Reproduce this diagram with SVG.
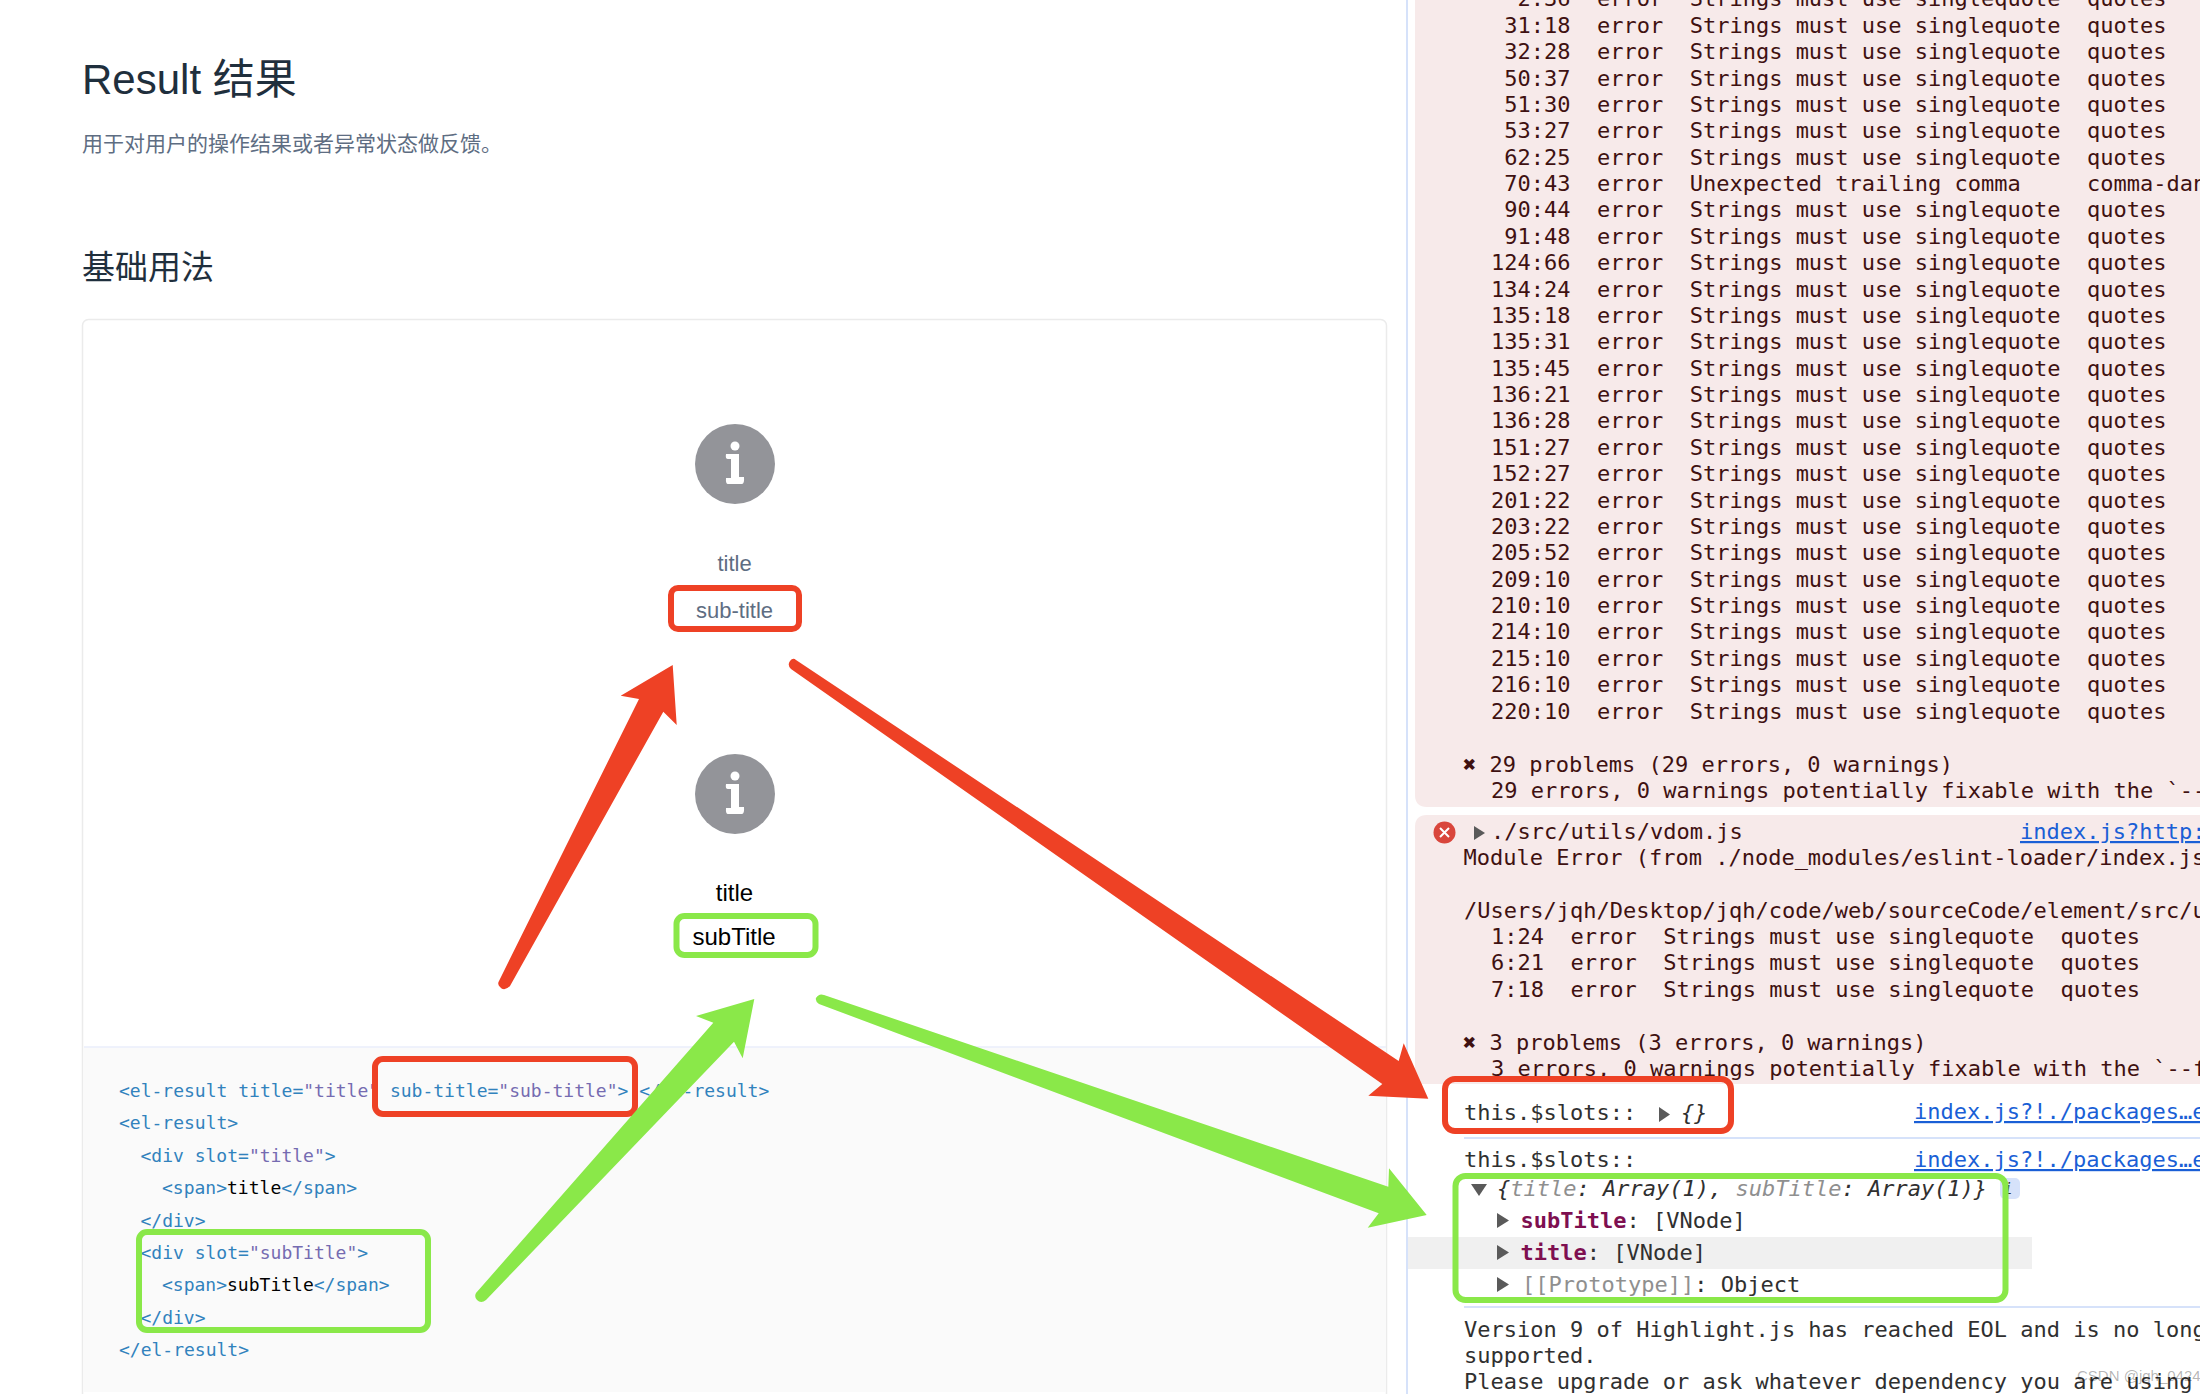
<svg xmlns="http://www.w3.org/2000/svg" width="2200" height="1394" viewBox="0 0 2200 1394">
<style>
text{white-space:pre}
.s{font-family:"Liberation Sans","Noto Sans CJK SC",sans-serif}
.h{fill:#1f2f3d}
.m{font-family:"DejaVu Sans Mono",monospace;font-size:22px;fill:#3f1111}
.k{fill:#303030}
.l{fill:#1a5fd6;text-decoration:underline}
.c{font-family:"DejaVu Sans Mono",monospace;font-size:18px;fill:#3182bd}
.q{fill:#756bb1}
.b{fill:#000}
.r{fill:none;stroke:#ee4125;stroke-width:6}
.g{fill:none;stroke:#8ae849;stroke-width:6}
.tri{fill:#5a5a5a}
.ra{fill:#ee4125}
.ga{fill:#8ae849}
.i{font-style:italic}
.dim{fill:#8f8f8f}
.prop{fill:#7e0f50;font-weight:bold}
</style>
<defs>
<g id="info">
<circle r="40" fill="#939499"/>
<circle cy="-18" r="4.500" fill="#fff"/>
<path d="M-9 -10H4V13H9Q9.500 20 7 20H-7Q-9.500 20 -9 14H-4V-5H-7Q-10 -5 -9 -10Z" fill="#fff"/>
</g>
</defs>
<rect width="2200" height="1394" fill="#fff"/>

<g id="page-header">
<text class="s h" x="82" y="94" font-size="42">Result 结果</text>
<text class="s" x="82" y="151" font-size="21" fill="#5e6d82">用于对用户的操作结果或者异常状态做反馈。</text>
<text class="s h" x="82" y="279" font-size="33">基础用法</text>
</g>

<g id="demo-card">
<rect x="82.500" y="319.500" width="1304" height="1085" rx="6" fill="#fff" stroke="#ebebeb" stroke-width="1.500"/>
<rect x="84" y="1047" width="1302" height="345" fill="#fafafa"/>
<path d="M84 1047H1386" stroke="#eaeefb" stroke-width="1.500"/>
</g>

<g id="result-attr">
<use href="#info" x="735" y="464"/>
<text class="s" x="734.500" y="571" font-size="22" text-anchor="middle" fill="#5e6d82">title</text>
<text class="s" x="734.500" y="618" font-size="22" text-anchor="middle" fill="#5e6d82">sub-title</text>
<rect class="r" x="671" y="588" width="128" height="41" rx="7"/>
</g>

<g id="result-slot">
<use href="#info" x="735" y="794"/>
<text class="s b" x="734.500" y="901" font-size="24" text-anchor="middle">title</text>
<text class="s b" x="692.500" y="945" font-size="24">subTitle</text>
<rect class="g" x="676.500" y="916" width="139" height="39" rx="8"/>
</g>

<g id="code">
<text class="c" x="119" y="1097">&lt;el-result title=<tspan class="q">"title"</tspan> sub-title=<tspan class="q">"sub-title"</tspan>&gt; &lt;/el-result&gt;</text>
<text class="c" x="119" y="1129">&lt;el-result&gt;</text>
<text class="c" x="140.500" y="1162">&lt;div slot=<tspan class="q">"title"</tspan>&gt;</text>
<text class="c" x="162" y="1194">&lt;span&gt;<tspan class="b">title</tspan>&lt;/span&gt;</text>
<text class="c" x="140.500" y="1227">&lt;/div&gt;</text>
<text class="c" x="140.500" y="1259">&lt;div slot=<tspan class="q">"subTitle"</tspan>&gt;</text>
<text class="c" x="162" y="1291">&lt;span&gt;<tspan class="b">subTitle</tspan>&lt;/span&gt;</text>
<text class="c" x="140.500" y="1324">&lt;/div&gt;</text>
<text class="c" x="119" y="1356">&lt;/el-result&gt;</text>
<rect class="r" x="375" y="1059" width="260" height="55" rx="8"/>
<rect class="g" x="139" y="1232" width="289" height="98" rx="8"/>
</g>

<g id="console">
<rect x="1406" y="0" width="2" height="1394" fill="#d6e2fa"/>
<path d="M1415 0H2200V807H1427Q1415 807 1415 795Z" fill="#f7eaea"/>
<path d="M1427 815H2200V1084H1415V827Q1415 815 1427 815Z" fill="#f7eaea"/>
<text class="m" x="1464.500" y="6">    2:36  error  Strings must use singlequote  quotes</text>
<text class="m" x="1464.500" y="32.700">   31:18  error  Strings must use singlequote  quotes</text>
<text class="m" x="1464.500" y="59">   32:28  error  Strings must use singlequote  quotes</text>
<text class="m" x="1464.500" y="85.500">   50:37  error  Strings must use singlequote  quotes</text>
<text class="m" x="1464.500" y="111.800">   51:30  error  Strings must use singlequote  quotes</text>
<text class="m" x="1464.500" y="138.200">   53:27  error  Strings must use singlequote  quotes</text>
<text class="m" x="1464.500" y="164.600">   62:25  error  Strings must use singlequote  quotes</text>
<text class="m" x="1464.500" y="191">   70:43  error  Unexpected trailing comma     comma-dan</text>
<text class="m" x="1464.500" y="217.400">   90:44  error  Strings must use singlequote  quotes</text>
<text class="m" x="1464.500" y="243.700">   91:48  error  Strings must use singlequote  quotes</text>
<text class="m" x="1464.500" y="270.100">  124:66  error  Strings must use singlequote  quotes</text>
<text class="m" x="1464.500" y="296.500">  134:24  error  Strings must use singlequote  quotes</text>
<text class="m" x="1464.500" y="322.900">  135:18  error  Strings must use singlequote  quotes</text>
<text class="m" x="1464.500" y="349.300">  135:31  error  Strings must use singlequote  quotes</text>
<text class="m" x="1464.500" y="375.600">  135:45  error  Strings must use singlequote  quotes</text>
<text class="m" x="1464.500" y="402">  136:21  error  Strings must use singlequote  quotes</text>
<text class="m" x="1464.500" y="428.400">  136:28  error  Strings must use singlequote  quotes</text>
<text class="m" x="1464.500" y="454.800">  151:27  error  Strings must use singlequote  quotes</text>
<text class="m" x="1464.500" y="481.200">  152:27  error  Strings must use singlequote  quotes</text>
<text class="m" x="1464.500" y="507.500">  201:22  error  Strings must use singlequote  quotes</text>
<text class="m" x="1464.500" y="533.900">  203:22  error  Strings must use singlequote  quotes</text>
<text class="m" x="1464.500" y="560.300">  205:52  error  Strings must use singlequote  quotes</text>
<text class="m" x="1464.500" y="586.700">  209:10  error  Strings must use singlequote  quotes</text>
<text class="m" x="1464.500" y="613.100">  210:10  error  Strings must use singlequote  quotes</text>
<text class="m" x="1464.500" y="639.400">  214:10  error  Strings must use singlequote  quotes</text>
<text class="m" x="1464.500" y="665.800">  215:10  error  Strings must use singlequote  quotes</text>
<text class="m" x="1464.500" y="692.200">  216:10  error  Strings must use singlequote  quotes</text>
<text class="m" x="1464.500" y="718.700">  220:10  error  Strings must use singlequote  quotes</text>
<text class="m" x="1463" y="772">✖ 29 problems (29 errors, 0 warnings)</text>
<text class="m" x="1464.500" y="798">  29 errors, 0 warnings potentially fixable with the `--</text>

<circle cx="1444.500" cy="832.500" r="11" fill="#d9463c"/>
<path d="M1440 828l9 9m0-9l-9 9" stroke="#fff" stroke-width="2"/>
<path class="tri" d="M1474 826L1485 833L1474 840Z"/>
<text class="m" x="1491" y="839">./src/utils/vdom.js</text>
<text class="m l" x="2020" y="839">index.js?http:</text>
<text class="m" x="1463.500" y="865">Module Error (from ./node_modules/eslint-loader/index.js</text>
<text class="m" x="1464" y="918">/Users/jqh/Desktop/jqh/code/web/sourceCode/element/src/u</text>
<text class="m" x="1464.500" y="944">  1:24  error  Strings must use singlequote  quotes</text>
<text class="m" x="1464.500" y="970">  6:21  error  Strings must use singlequote  quotes</text>
<text class="m" x="1464.500" y="997">  7:18  error  Strings must use singlequote  quotes</text>
<text class="m" x="1463" y="1050">✖ 3 problems (3 errors, 0 warnings)</text>
<text class="m" x="1464.500" y="1076">  3 errors, 0 warnings potentially fixable with the `--f</text>

<text class="m k" x="1464" y="1120">this.$slots::</text>
<path class="tri" d="M1659 1107L1670 1114.500L1659 1122Z"/>
<text class="m k i" x="1681" y="1120">{}</text>
<text class="m l" x="1914" y="1119">index.js?!./packages…e</text>
<path d="M1464 1138H2200" stroke="#d6e2fa" stroke-width="2"/>
<text class="m k" x="1464" y="1167">this.$slots::</text>
<text class="m l" x="1914" y="1167">index.js?!./packages…e</text>

<rect x="1408" y="1237" width="624" height="32" fill="#f0f0f0"/>
<rect x="2000" y="1178" width="20" height="21" rx="5" fill="#d6e2fa"/>
<text class="m k i" x="2003" y="1194" font-size="16" style="font-size:16px">i</text>
<path class="tri" d="M1471 1184H1487L1479 1196Z"/>
<text class="m k i" x="1497" y="1196">{<tspan class="dim">title</tspan>: Array(1), <tspan class="dim">subTitle</tspan>: Array(1)}</text>
<path class="tri" d="M1497 1213L1509 1220.500L1497 1228Z"/>
<text class="m k" x="1520.500" y="1228"><tspan class="prop">subTitle</tspan>: [VNode]</text>
<path class="tri" d="M1497 1245L1509 1252.500L1497 1260Z"/>
<text class="m k" x="1520.500" y="1260"><tspan class="prop">title</tspan>: [VNode]</text>
<path class="tri" d="M1497 1277L1509 1284.500L1497 1292Z"/>
<text class="m k" x="1522" y="1292"><tspan class="dim">[[Prototype]]</tspan>: Object</text>
<path d="M1464 1307H2200" stroke="#d6e2fa" stroke-width="2"/>
<text class="m k" x="1464" y="1337">Version 9 of Highlight.js has reached EOL and is no long</text>
<text class="m k" x="1464" y="1363">supported.</text>
<text class="m k" x="1464" y="1389">Please upgrade or ask whatever dependency you are using</text>
<rect class="r" x="1445" y="1079" width="286" height="52" rx="10"/>
<rect class="g" x="1455.500" y="1176" width="550" height="124" rx="10"/>
<text class="s" x="2077" y="1381" font-size="15" fill="#000" fill-opacity=".3">CSDN @jqh_0424</text>
</g>

<g id="connectors">
<path class="ra" d="M499 981L639 699L620.700 695.700L672.700 665L676.700 725L663.300 711.700L510 986Q504 992 500 987Q497 984 499 981Z"/>
<path class="ra" d="M796 660L1398.700 1061L1403.700 1043.300L1428.300 1098.700L1368.300 1095.700L1382.300 1084L791 669Q787 665 790 661Q793 657 796 660Z"/>
<path class="ga" d="M476 1293L713.300 1022.700L696 1016L754.300 999L742.700 1058.300L734 1041.700L486 1300Q481 1304 477 1300Q474 1297 476 1293Z"/>
<path class="ga" d="M824 995L1388.300 1186.700L1389 1168.300L1426.700 1215L1367.700 1227.700L1378.700 1213.300L819 1004Q815 1001 816 998Q819 993 824 995Z"/>
</g>
</svg>
